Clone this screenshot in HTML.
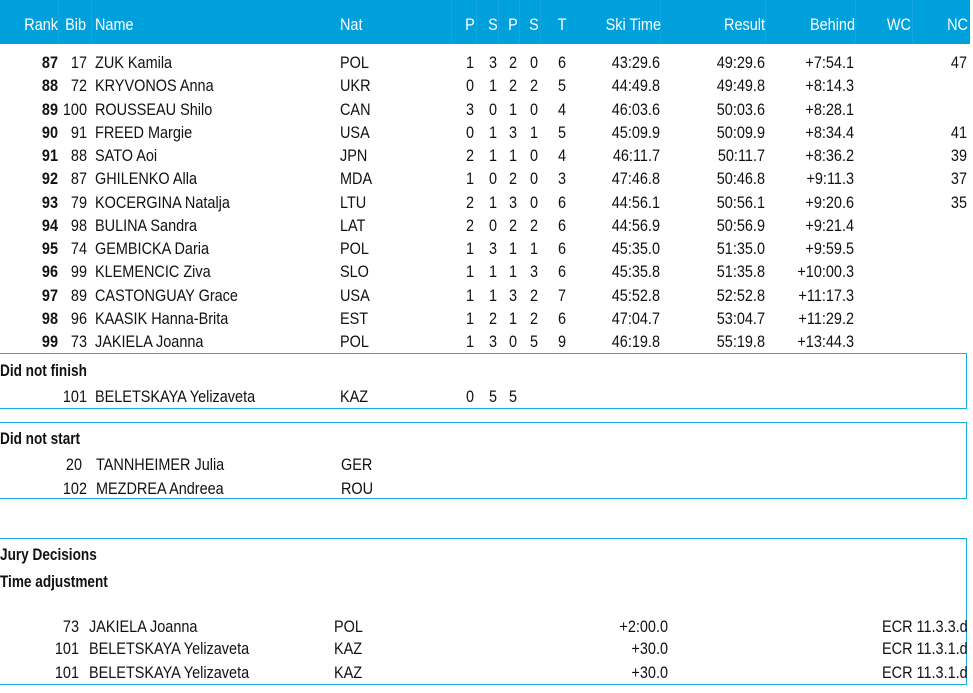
<!DOCTYPE html>
<html><head><meta charset="utf-8"><style>
body{margin:0;width:973px;height:693px;background:#fff;position:relative;overflow:hidden;font-family:"Liberation Sans",sans-serif;font-size:17px;color:#111}
.h{position:absolute;left:0;top:0;width:970px;height:44px;background:#00a0dc}
.t{position:absolute;white-space:nowrap;line-height:18px;transform:scaleX(0.85);transform-origin:left center}
.r{text-align:right;transform-origin:right center}
.c{text-align:center;transform-origin:center center}
.w{color:#fff}
.b{font-weight:bold}
.hd{font-weight:bold;transform:scaleX(0.8)}
.sep{position:absolute;top:0;height:44px;width:1px;background:#12a5de}
.box{position:absolute;left:-1px;width:967px;border:1px solid #19aee0;border-left:none}
</style></head><body>
<div class="h"></div>
<div class="sep" style="left:58px"></div><div class="sep" style="left:91px"></div><div class="sep" style="left:451px"></div><div class="sep" style="left:476px"></div><div class="sep" style="left:498px"></div><div class="sep" style="left:519px"></div><div class="sep" style="left:540px"></div><div class="sep" style="left:660px"></div><div class="sep" style="left:765px"></div><div class="sep" style="left:855px"></div><div class="sep" style="left:912px"></div>
<div class="box" style="top:353px;height:54px"></div>
<div class="box" style="top:422px;height:75px"></div>
<div class="box" style="top:538px;height:145px"></div>
<script>
function T(x,y,s,cls,w){var d=document.createElement('div');d.className='t '+(cls||'');d.textContent=s;d.style.top=(y-8)+'px';
if(cls&&/(^| )r( |$)/.test(cls)){d.style.left=(x-(w||100))+'px';d.style.width=(w||100)+'px';}
else if(cls&&/(^| )c( |$)/.test(cls)){d.style.left=(x-20)+'px';d.style.width='40px';}
else d.style.left=x+'px';document.body.appendChild(d);}
var hy=24;
T(58,hy,'Rank','r w');T(86,hy,'Bib','r w');T(95,hy,'Name','w');T(340,hy,'Nat','w');
T(470,hy,'P','c w');T(493,hy,'S','c w');T(513,hy,'P','c w');T(534,hy,'S','c w');T(562,hy,'T','c w');
T(661,hy,'Ski Time','r w');T(765,hy,'Result','r w');T(855,hy,'Behind','r w');T(911,hy,'WC','r w');T(968,hy,'NC','r w');
var d=[
[87,17,'ZUK Kamila','POL','1320',6,'43:29.6','49:29.6','+7:54.1','47'],
[88,72,'KRYVONOS Anna','UKR','0122',5,'44:49.8','49:49.8','+8:14.3',''],
[89,100,'ROUSSEAU Shilo','CAN','3010',4,'46:03.6','50:03.6','+8:28.1',''],
[90,91,'FREED Margie','USA','0131',5,'45:09.9','50:09.9','+8:34.4','41'],
[91,88,'SATO Aoi','JPN','2110',4,'46:11.7','50:11.7','+8:36.2','39'],
[92,87,'GHILENKO Alla','MDA','1020',3,'47:46.8','50:46.8','+9:11.3','37'],
[93,79,'KOCERGINA Natalja','LTU','2130',6,'44:56.1','50:56.1','+9:20.6','35'],
[94,98,'BULINA Sandra','LAT','2022',6,'44:56.9','50:56.9','+9:21.4',''],
[95,74,'GEMBICKA Daria','POL','1311',6,'45:35.0','51:35.0','+9:59.5',''],
[96,99,'KLEMENCIC Ziva','SLO','1113',6,'45:35.8','51:35.8','+10:00.3',''],
[97,89,'CASTONGUAY Grace','USA','1132',7,'45:52.8','52:52.8','+11:17.3',''],
[98,96,'KAASIK Hanna-Brita','EST','1212',6,'47:04.7','53:04.7','+11:29.2',''],
[99,73,'JAKIELA Joanna','POL','1305',9,'46:19.8','55:19.8','+13:44.3','']];
var cx=[470,493,513,534];
d.forEach(function(r,i){var y=62+i*23.25;
T(58,y,r[0],'r b');T(87,y,r[1],'r');T(95,y,r[2]);T(340,y,r[3]);
for(var k=0;k<4;k++)T(cx[k],y,r[4][k],'c');T(562,y,r[5],'c');
T(660,y,r[6],'r');T(765,y,r[7],'r');T(854,y,r[8],'r');T(967,y,r[9],'r');});
T(0,370,'Did not finish','hd');
T(87,396,'101','r');T(95,396,'BELETSKAYA Yelizaveta');T(340,396,'KAZ');T(470,396,'0','c');T(493,396,'5','c');T(513,396,'5','c');
T(0,438,'Did not start','hd');
T(82,464,'20','r');T(96,464,'TANNHEIMER Julia');T(341,464,'GER');
T(87,488,'102','r');T(96,488,'MEZDREA Andreea');T(341,488,'ROU');
T(0,554,'Jury Decisions','hd');T(0,581,'Time adjustment','hd');
[[626,'73','JAKIELA Joanna','POL','+2:00.0','ECR 11.3.3.d'],[648,'101','BELETSKAYA Yelizaveta','KAZ','+30.0','ECR 11.3.1.d'],[672,'101','BELETSKAYA Yelizaveta','KAZ','+30.0','ECR 11.3.1.d']].forEach(function(r){
T(79,r[0],r[1],'r');T(89,r[0],r[2]);T(334,r[0],r[3]);T(668,r[0],r[4],'r');T(967,r[0],r[5],'r');});
</script>
</body></html>
